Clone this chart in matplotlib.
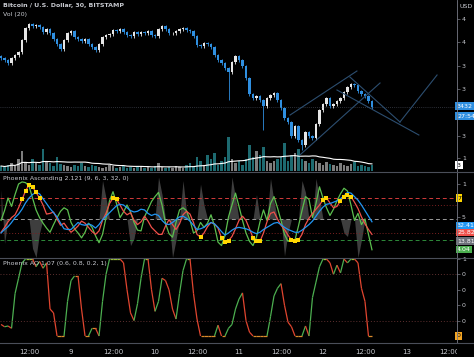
import numpy as np
import pandas as pd
import matplotlib
matplotlib.use("Agg")
import matplotlib.pyplot as plt
from matplotlib.collections import LineCollection
from matplotlib.patches import Rectangle
from matplotlib.lines import Line2D

# hourly bars, hour 0 = 9 Dec 00:00
hours = np.arange(-20, 87)

closes = [3532, 3528, 3522, 3532, 3538, 3544, 3568, 3592, 3600, 3596,
          3598, 3594, 3584, 3590, 3582, 3570, 3560, 3550, 3568, 3582,
          3586, 3574, 3570, 3566, 3570, 3560, 3554, 3548, 3560, 3574,
          3578, 3580, 3588, 3586, 3590, 3584, 3578, 3576, 3584, 3580,
          3584, 3582, 3586, 3578, 3576, 3590, 3596, 3590, 3582, 3582,
          3586, 3590, 3592, 3588, 3586, 3576, 3558, 3556, 3562, 3560,
          3554, 3538, 3528, 3522, 3512, 3504, 3524, 3536, 3528, 3516,
          3492, 3460, 3452, 3456, 3448, 3436, 3452, 3458, 3462, 3448,
          3432, 3412, 3404, 3376, 3396, 3368, 3358, 3384, 3376, 3372,
          3400, 3428, 3440, 3452, 3436, 3440, 3446, 3452, 3464, 3474,
          3480, 3478, 3466, 3460, 3456, 3446, 3434]
deep_lows = {45: 3448, 55: 3388, 66: 3348}

volumes = [5, 4, 6, 8, 5, 12, 20, 9, 6, 12,
           8, 6, 22, 10, 8, 5, 14, 7, 6, 5,
           4, 6, 5, 8, 5, 4, 6, 5, 4, 3,
           4, 6, 5, 3, 4, 5, 3, 4, 3, 5,
           4, 3, 4, 3, 5, 8, 4, 3, 4, 3,
           5, 4, 3, 6, 8, 5, 14, 10, 6, 16,
           12, 18, 6, 10, 14, 34, 12, 8, 10, 6,
           12, 26, 14, 20, 16, 24, 10, 8, 10, 12,
           14, 28, 10, 16, 18, 22, 12, 10, 8, 12,
           10, 8, 6, 9, 7, 6, 5, 8, 6, 5,
           7, 9, 5, 6, 5, 4, 6]

osc_blue = [30, 35, 39, 45, 52, 57, 64, 73, 80, 85,
            88, 86, 79, 72, 65, 59, 53, 44, 36, 35,
            35, 40, 45, 42, 41, 43, 41, 37, 42, 49,
            54, 59, 64, 69, 71, 70, 66, 62, 60, 61,
            64, 63, 58, 55, 57, 55, 48, 43, 42, 45,
            49, 53, 54, 51, 47, 41, 35, 36, 38, 42,
            45, 43, 38, 32, 27, 30, 34, 37, 38, 37,
            36, 34, 31, 29, 31, 35, 38, 41, 44, 45,
            42, 38, 35, 33, 31, 31, 34, 38, 42, 47,
            54, 61, 67, 71, 72, 74, 76, 79, 83, 88,
            87, 82, 77, 70, 62, 54, 46]
osc_red = [31, 38, 46, 52, 56, 66, 78, 90, 99, 96,
           88, 80, 70, 57, 58, 60, 50, 41, 44, 37,
           31, 35, 40, 47, 44, 38, 32, 28, 33, 48,
           58, 72, 80, 78, 70, 61, 56, 59, 48, 42,
           46, 54, 47, 38, 33, 28, 28, 40, 49, 42,
           35, 43, 56, 61, 57, 45, 28, 24, 30, 39,
           45, 43, 37, 23, 17, 19, 25, 36, 48, 54,
           48, 36, 23, 18, 18, 30, 46, 58, 60, 50,
           41, 35, 27, 20, 19, 20, 28, 42, 51, 58,
           64, 70, 77, 80, 73, 66, 68, 76, 82, 84,
           82, 74, 65, 53, 43, 35, 28]
osc_green = [48, 62, 80, 68, 85, 100, 103, 102, 97, 80,
             63, 52, 44, 37, 31, 42, 52, 61, 66, 63,
             45, 36, 30, 23, 31, 44, 38, 26, 16, 28,
             52, 76, 89, 72, 52, 60, 70, 60, 45, 34,
             33, 53, 64, 75, 82, 88, 70, 44, 29, 24,
             45, 63, 66, 62, 48, 30, 33, 45, 38, 44,
             56, 40, 17, 12, 26, 53, 70, 87, 68, 48,
             30, 18, 12, 24, 46, 63, 48, 72, 82, 66,
             48, 28, 18, 20, 20, 40, 62, 82, 78, 52,
             72, 96, 80, 66, 55, 64, 76, 86, 94, 90,
             70, 48, 58, 42, 50, 28, 6]
osc_gray = [92, 15, 50, 50, 50, 50, 50, 50, 50, 8,
            -5, 30, 50, 50, 50, 50, 50, 50, 50, 50,
            50, 50, 50, 50, 50, 50, 50, 50, 50, 105,
            80, 50, 50, 50, 50, 50, 50, 12, 22, 50,
            50, 50, 50, 50, 50, 110, 85, 50, 50, -5,
            20, 50, 105, 60, 50, 50, 50, 100, 70, 50,
            50, 50, 50, 50, 50, 50, 110, 80, 50, 50,
            50, 50, 50, 85, 50, 50, 50, 108, 75, 50,
            50, -3, 30, 50, 50, 50, 105, 88, 50, 50,
            108, 80, 50, 50, 50, 50, 50, 50, 30, 25,
            50, 50, -5, 20, 50, 50, 50]
osc_levels = [80, 70, 50, 30, 20]

ao = [0.15, 0.12, 0.13, 0.10, 0.55, 0.75, 0.95, 1.0, 1.0, 1.0,
      0.9, 0.97, 0.88, 0.95, 0.35, 0.3, 0.0, 0.0, 0.0, 0.45,
      0.72, 0.78, 0.78, 0.35, 0.0, 0.0, 0.1, 0.1, 0.0, 0.45,
      0.8, 1.0, 1.0, 1.0, 1.0, 0.95, 0.6, 0.3, 0.2, 0.42,
      0.75, 1.0, 1.0, 0.6, 0.32, 0.45, 0.75, 0.72, 0.6, 0.35,
      0.22, 0.55, 0.85, 1.0, 1.0, 0.55, 0.22, 0.0, 0.0, 0.0,
      0.0, 0.0, 0.14, 0.0, 0.0, 0.1, 0.15, 0.35, 0.48, 0.56,
      0.2, 0.05, 0.0, 0.0, 0.0, 0.0, 0.0, 0.25, 0.52, 0.62,
      0.68, 0.4, 0.18, 0.12, 0.0, 0.0, 0.0, 0.13, 0.0, 0.5,
      0.7, 0.9, 1.0, 1.0, 0.95, 0.8, 0.92, 0.82, 1.0, 0.95,
      1.0, 1.0, 0.95, 0.62, 0.45, 0.0, 0.0]
ao_levels = [0.8, 0.2]

# trend line drawings: (hour, price) pairs
drawings = [((62.6, 3418), (81.7, 3506)),
            ((65.4, 3338), (88.3, 3482)),
            ((79.7, 3494), (94.0, 3404)),
            ((76.0, 3468), (99.4, 3378)),
            ((94.0, 3404), (104.6, 3498))]

time_ticks = [-12, 0, 12, 24, 36, 48, 60, 72, 84, 96, 108]
time_labels = ['12:00', '9', '12:00', '10', '12:00', '11', '12:00', '12', '12:00', '13', '12:00']

price_ticks = [3376, 3470, 3517, 3564, 3611]
price_tick_labels = ['3', '3', '3', '4', '4']
osc_ticks = [100, 53]
osc_tick_labels = ['1', '5']
ao_ticks = [1.0, 0.8, 0.6, 0.4, 0.2]
ao_tick_labels = ['1', '0', '0', '0', '0']

# ---------------------------------------------------------------
W, H = 474, 357
TXT = '#c8cad0'
GRID = '#4a4e59'
plt.rcParams['font.family'] = 'DejaVu Sans'

fig = plt.figure(figsize=(W / 100, H / 100), dpi=100, facecolor='black')


def pane(top, bottom):
    ax = fig.add_axes([0, 1 - bottom / H, 457 / W, (bottom - top) / H])
    ax.set_facecolor('none')
    for s in ax.spines.values():
        s.set_visible(False)
    ax.set_xlim(-20.3, 110.3)
    ax.set_xticks([])
    ax.yaxis.tick_right()
    ax.tick_params(axis='y', length=2, width=0.5, color='#787b86', labelsize=4.5,
                   labelcolor=TXT, pad=1.5)
    return ax


ax_v = pane(0, 171)
ax_p = pane(0, 171)
ax_o = pane(172, 258)
ax_a = pane(258, 343)

h = hours
c = np.array(closes, dtype=float)
o = np.r_[c[0] + 4, c[:-1]]
up = c >= o
hi = np.maximum(o, c) + 3
lo = np.minimum(o, c) - 3
for hh, low in deep_lows.items():
    lo[hh - h[0]] = low

# volume
vol = pd.Series(volumes, dtype=float)
ax_v.bar(h, vol, width=0.75, color=np.where(up, '#7d7d7d', '#1d6a70'), linewidth=0)
ax_v.plot(h, vol.rolling(20, min_periods=1).mean(), color='white', lw=0.8)
ax_v.set_ylim(0, 171)
ax_v.set_yticks([13])
ax_v.set_yticklabels(['1'])
ax_v.text(1.0, vol.iloc[-1], '3', transform=ax_v.get_yaxis_transform(), fontsize=4.5,
          color='black', va='center', ha='left',
          bbox=dict(boxstyle='square,pad=0.25', fc='white', ec='none'))

# price
ax_p.axhline(c[-1], color='#3b3f4a', lw=0.6, ls=(0, (1, 1.5)))
col = np.where(up, '#e6e6e6', '#2f8fe0')
ax_p.vlines(h, lo, hi, colors=col, lw=0.6)
ax_p.bar(h, np.maximum(np.abs(c - o), 0.8), bottom=np.minimum(o, c), width=0.6,
         color=col, linewidth=0)
for (x0, y0), (x1, y1) in drawings:
    ax_p.plot([x0, x1], [y0, y1], color='#2c4e70', lw=0.8)
ax_p.set_ylim(3306, 3648)
ax_p.set_yticks(price_ticks)
ax_p.set_yticklabels(price_tick_labels)
ax_p.text(0.006, 0.965, 'Bitcoin / U.S. Dollar, 30, BITSTAMP', transform=ax_p.transAxes,
          fontsize=4.5, color=TXT, va='center', fontweight='bold')
ax_p.text(0.006, 0.918, 'Vol (20)', transform=ax_p.transAxes, fontsize=4.5, color=TXT, va='center')
ax_p.text(1.0, c[-1] + 2, '3432', transform=ax_p.get_yaxis_transform(), fontsize=4.5,
          color='white', va='center', ha='left',
          bbox=dict(boxstyle='square,pad=0.25', fc='#2f8fe0', ec='none'))
ax_p.text(1.0, c[-1] - 18, '27:54', transform=ax_p.get_yaxis_transform(), fontsize=4.5,
          color='white', va='center', ha='left',
          bbox=dict(boxstyle='square,pad=0.25', fc='#2f8fe0', ec='none'))

# oscillator
blue = np.array(osc_blue, float)
red = np.array(osc_red, float)
green = np.array(osc_green, float)
gray = np.array(osc_gray, float)
ax_o.fill_between(h, 50, gray, color='#8a8a8a', alpha=0.45, linewidth=0)
lvl_style = {80: ('#d23a3a', (0, (4, 3))), 70: ('#7a2020', (0, (1, 2))),
             50: ('#9a9a9a', (0, (4, 3))), 30: ('#7a2020', (0, (1, 2))),
             20: ('#2e8b3a', (0, (4, 3)))}
for lv in osc_levels:
    cc, ls = lvl_style[lv]
    ax_o.axhline(lv, color=cc, lw=0.7, ls=ls)
ax_o.plot(h, green, color='#5cbf4f', lw=0.9)
ax_o.plot(h, red, color='#f0504a', lw=0.9)
ax_o.plot(h, blue, color='#2196f3', lw=0.9)
mark = (red >= 75) | (red <= 24)
ax_o.scatter(h[mark], red[mark], s=5, marker='s', color='#ffd600', zorder=5, linewidths=0)
ax_o.set_ylim(-5.8, 117.2)
ax_o.set_yticks(osc_ticks)
ax_o.set_yticklabels(osc_tick_labels)
ax_o.text(0.006, 0.93, 'Phoenix Ascending 2.121 (9, 6, 3, 32, 0)', transform=ax_o.transAxes,
          fontsize=4.5, color=TXT, va='center')
for val, txt, fc, tc in [(80, '7', '#ffd600', 'black'), (blue[-1] - 5, '32.41', '#2196f3', 'white'),
                         (red[-1] + 3, '25.82', '#f0504a', 'white'), (18.5, '13.81', '#6b6f78', 'white'),
                         (green[-1], '4.04', '#4caf50', 'white')]:
    ax_o.text(1.0, val, txt, transform=ax_o.get_yaxis_transform(), fontsize=4.5, color=tc,
              va='center', ha='left', bbox=dict(boxstyle='square,pad=0.2', fc=fc, ec='none'))

# AO
a = np.array(ao, float)
seg = np.stack([np.c_[h[:-1], a[:-1]], np.c_[h[1:], a[1:]]], axis=1)
d = np.diff(a)
seg_col = np.where(d > 0, '#4caf50', np.where(d < 0, '#e0452f',
                   np.where(a[:-1] >= 0.99, '#9bc13c', '#d98a2b')))
ax_a.add_collection(LineCollection(seg, colors=seg_col, linewidths=0.9))
for lv in ao_levels:
    ax_a.axhline(lv, color='#5e3030', lw=0.7, ls=(0, (1, 2)))
ax_a.set_ylim(-0.091, 1.013)
ax_a.set_yticks(ao_ticks)
ax_a.set_yticklabels(ao_tick_labels)
ax_a.text(0.006, 0.93, 'Phoenix AO 1.07 (0.6, 0.8, 0.2, 1)', transform=ax_a.transAxes,
          fontsize=4.5, color=TXT, va='center')
ax_a.text(1.0, a[-1], '0', transform=ax_a.get_yaxis_transform(), fontsize=4.5, color='black',
          va='center', ha='left', bbox=dict(boxstyle='square,pad=0.25', fc='#f5a623', ec='none'))
ax_a.set_xticks(time_ticks)
ax_a.set_xticklabels(time_labels)
ax_a.tick_params(axis='x', length=0, labelsize=5, labelcolor=TXT, pad=4)

# separators and right scale area
fig.add_artist(Rectangle((457 / W, 0), 17 / W, 14 / H, transform=fig.transFigure,
                         fc='black', ec='none', zorder=5))
fig.add_artist(Line2D([457 / W, 457 / W], [1 - 343 / H, 1], transform=fig.transFigure,
                      color='#787b86', lw=0.6, zorder=6))
for yy in [171.5, 258, 343]:
    fig.add_artist(Line2D([0, 1], [1 - yy / H] * 2, transform=fig.transFigure,
                          color=GRID, lw=0.8, zorder=6))
fig.text(460 / W, 1 - 6 / H, 'USD', fontsize=4.5, color=TXT, va='center')

fig.savefig('out.png', dpi=100, facecolor='black')
